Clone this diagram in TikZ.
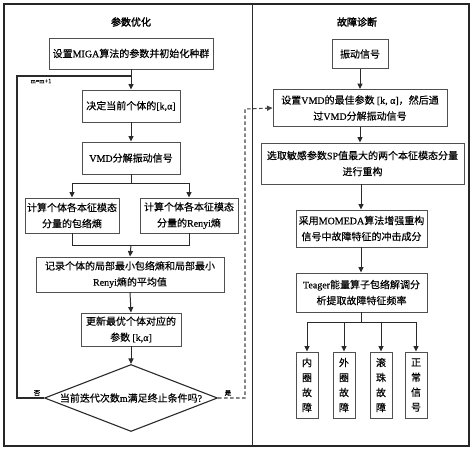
\documentclass[tikz,border=0pt]{standalone}
\usepackage{fontspec}
\setmainfont[FakeBold=0.25]{Noto Sans CJK SC}
\newfontfamily\lat[FakeBold=0.25]{Liberation Serif}
\newfontfamily\cjkb[FakeBold=2.4]{Noto Sans CJK SC}
\usetikzlibrary{shapes.geometric,arrows.meta}
\newcommand\tn[1]{{\lat #1}}
\definecolor{boxgray}{HTML}{505050}
\definecolor{linegray}{HTML}{2a2a2a}
\definecolor{dashgray}{HTML}{444444}
\begin{document}
\begin{tikzpicture}[x=1pt,y=-1pt,
  box/.style={draw=boxgray, line width=0.9pt, align=center, inner sep=0pt,
    font=\fontsize{10}{16}\selectfont},
  vbox/.style={draw=boxgray, line width=0.9pt, align=center, inner sep=0pt,
    minimum width=22pt, minimum height=66pt, font=\fontsize{10}{15}\selectfont},
  arr/.style={-{Triangle[length=5.5pt,width=5pt]}, line width=1pt, draw=linegray},
  ln/.style={line width=1pt, draw=linegray},
  ttl/.style={font=\fontsize{10}{12}\selectfont\cjkb},
  small/.style={font=\fontsize{6.5}{7}\selectfont, inner sep=0pt}]
\useasboundingbox (0,0) rectangle (474,450);
% frame
\draw[line width=1.4pt, draw=black!85] (4,4) rectangle (469,446);
\draw[line width=1pt, draw=linegray] (252,4) -- (252,446);

% left panel
\node[ttl] (t1) at (131,22) {参数优化};
\node[box, minimum width=164pt, minimum height=31pt] (b1) at (131,53.5) {设置\tn{MIGA}算法的参数并初始化种群};
\node[box, minimum width=98pt, minimum height=32pt] (b2) at (131,106) {决定当前个体的\tn{[k,α]}};
\node[box, minimum width=98pt, minimum height=32pt] (b3) at (131,158) {\tn{VMD}分解振动信号};
\node[box, minimum width=94pt, minimum height=35pt] (b4l) at (72,215.5) {计算个体各本征模态\\分量的包络熵};
\node[box, minimum width=98pt, minimum height=35pt] (b4r) at (189,215.5) {计算个体各本征模态\\分量的\tn{Renyi}熵};
\node[box, minimum width=188pt, minimum height=35pt] (b5) at (130,274.5) {记录个体的局部最小包络熵和局部最小\\\tn{Renyi}熵的平均值};
\node[box, minimum width=100pt, minimum height=33pt] (b6) at (131,329.5) {更新最优个体对应的\\参数 \tn{[k,α]}};
\node[diamond, draw=linegray, line width=1.1pt, minimum width=173pt, minimum height=67pt, inner sep=0pt,
  font=\fontsize{10}{12}\selectfont] (d) at (131,398) {\makebox[0pt]{当前迭代次数\tn{m}满足终止条件吗\tn{?}}};

\coordinate (j1) at (131,76);
\coordinate (j2) at (131,183);
\coordinate (j3) at (131,245);
\coordinate (lc) at (17,76);
\coordinate (dc) at (245,109);

\draw[arr] (b1.south) -- (b2.north);
\draw[arr] (b2.south) -- (b3.north);
\draw[ln] (b3.south) -- (j2);
\draw[arr] (j2) -| (b4l.north);
\draw[arr] (j2) -| (b4r.north);
\draw[ln] (b4l.south) |- (j3);
\draw[ln] (b4r.south) |- (j3);
\draw[arr] (j3) -- (b5.north);
\draw[arr] (b5.south) -- (b6.north);
\draw[arr] (b6.south) -- (d.north);
\draw[line width=1.2pt, draw=linegray] (d.west) -| (lc) -- (j1);
\node[small] (m1) at (41,81) {\tn{m=m+1}};
\node[small] (no) at (37,393) {否};
\node[small] (yes) at (228,393) {是};

% right panel
\node[ttl] (t2) at (357,22) {故障诊断};
\node[box, minimum width=56pt, minimum height=29pt] (r1) at (360,54) {振动信号};
\node[box, minimum width=174pt, minimum height=37pt] (r2) at (360,108) {设置\tn{VMD}的最佳参数 \tn{[k, α]}，然后通\\过\tn{VMD}分解振动信号};
\node[box, minimum width=203pt, minimum height=41pt] (r3) at (362.5,163.5) {选取敏感参数\tn{SP}值最大的两个本征模态分量\\进行重构};
\node[box, minimum width=131pt, minimum height=37pt] (r4) at (361.5,228.5) {采用\tn{MOMEDA}算法增强重构\\信号中故障特征的冲击成分};
\node[box, minimum width=131pt, minimum height=39pt] (r5) at (361.5,292.5) {\tn{Teager}能量算子包络解调分\\析提取故障特征频率};
\node[vbox] (f1) at (307,385) {内\\圈\\故\\障};
\node[vbox] (f2) at (344,385) {外\\圈\\故\\障};
\node[vbox] (f3) at (381,385) {滚\\珠\\故\\障};
\node[vbox] (f4) at (416,385) {正\\常\\信\\号};
\coordinate (j4) at (361,322);

\draw[arr] (r1.south) -- (r1.south |- r2.north);
\draw[arr] (r2.south) -- (r2.south |- r3.north);
\draw[arr] (361,184) -- (r4.north -| 361,0);
\draw[arr] (r4.south -| 361,0) -- (r5.north -| 361,0);
\draw[ln] (r5.south -| 361,0) -- (j4);
\draw[arr] (j4) -| (f1.north);
\draw[arr] (j4) -| (f2.north);
\draw[arr] (j4) -| (f3.north);
\draw[arr] (j4) -| (f4.north);

\draw[-{Triangle[length=5.5pt,width=5pt]}, line width=1.1pt, draw=dashgray, dash pattern=on 3.5pt off 2.5pt]
  (d.east) -| (dc) -- (r2.west);
\end{tikzpicture}
\end{document}
